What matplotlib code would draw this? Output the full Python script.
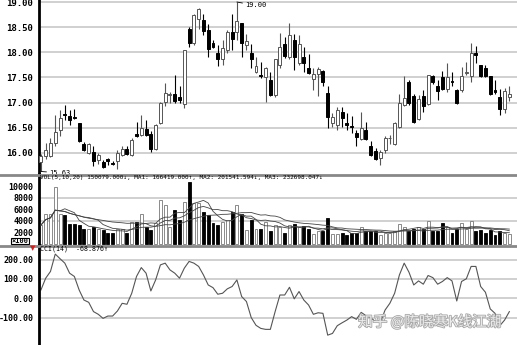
import matplotlib
matplotlib.use("Agg")
import matplotlib.pyplot as plt
import matplotlib.patheffects as pe
from matplotlib.lines import Line2D
import numpy as np
import pandas as pd

# Daily OHLC
opens = [15.81, 15.93, 15.93, 16.19, 16.46, 16.78, 16.74, 16.71, 16.59, 16.18,
         16.00, 16.01, 15.86, 15.81, 15.88, 15.80, 15.83, 15.96, 16.08, 15.96,
         16.38, 16.36, 16.47, 16.38, 16.08, 16.59, 17.02, 17.16, 17.17, 17.11,
         16.97, 18.47, 18.19, 18.67, 18.64, 18.44, 18.19, 17.99, 17.86, 18.04,
         18.41, 18.41, 18.58, 18.14, 17.99, 17.61, 17.55, 17.50, 17.45, 17.15,
         17.75, 18.16, 17.90, 18.25, 17.79, 17.91, 17.69, 17.46, 17.57, 17.63,
         17.20, 16.60, 16.56, 16.82, 16.60, 16.53, 16.40, 16.27, 16.46, 16.14,
         16.03, 15.90, 16.06, 16.29, 16.18, 16.51, 16.95, 17.40, 17.13, 16.67,
         17.13, 16.97, 17.52, 17.32, 17.50, 17.28, 17.42, 17.26, 17.25, 17.59,
         17.52, 17.99, 17.75, 17.68, 17.52, 17.25, 17.11, 16.87, 17.11]
highs = [15.98, 16.19, 16.29, 16.76, 16.85, 16.95, 16.85, 16.87, 16.60, 16.21,
         16.19, 16.13, 15.99, 15.86, 15.90, 15.83, 16.06, 16.13, 16.13, 16.29,
         16.62, 16.76, 16.66, 16.43, 16.58, 17.02, 17.38, 17.22, 17.55, 17.33,
         18.05, 18.50, 18.77, 18.89, 18.77, 18.57, 18.25, 18.14, 18.25, 18.44,
         18.77, 19.00, 18.58, 18.37, 18.17, 17.91, 17.81, 17.71, 17.61, 17.86,
         18.39, 18.31, 18.58, 18.37, 18.34, 18.11, 17.96, 17.69, 17.71, 17.64,
         17.33, 16.79, 16.92, 16.91, 16.79, 16.74, 16.46, 16.82, 16.61, 16.23,
         16.10, 16.05, 16.33, 16.36, 16.62, 17.18, 17.53, 17.45, 17.17, 17.15,
         17.25, 17.55, 17.55, 17.45, 17.63, 17.79, 17.61, 17.28, 17.71, 17.81,
         18.19, 18.12, 17.75, 17.75, 17.53, 17.45, 17.28, 17.30, 17.33]
lows = [15.63, 15.88, 15.92, 16.13, 16.33, 16.66, 16.56, 16.68, 16.21, 16.03,
        15.98, 15.73, 15.77, 15.70, 15.75, 15.75, 15.67, 15.93, 15.96, 15.94,
        16.31, 16.33, 16.33, 16.01, 16.06, 16.58, 16.93, 17.00, 17.00, 16.99,
        16.89, 18.11, 18.14, 18.47, 18.34, 17.91, 18.08, 17.73, 17.75, 17.98,
        18.04, 18.24, 17.91, 18.04, 17.68, 17.58, 17.48, 17.02, 17.13, 17.12,
        17.69, 17.88, 17.86, 17.65, 17.75, 17.61, 17.56, 17.26, 17.14, 17.33,
        16.49, 16.51, 16.46, 16.51, 16.46, 16.39, 16.13, 16.26, 16.26, 15.93,
        15.86, 15.75, 16.00, 16.18, 16.16, 16.49, 16.93, 16.95, 16.59, 16.66,
        16.82, 16.95, 17.37, 17.05, 17.25, 17.22, 17.33, 16.97, 17.22, 17.55,
        17.40, 17.78, 17.50, 17.50, 17.15, 17.17, 16.76, 16.79, 17.03]
closes = [15.93, 16.05, 16.19, 16.41, 16.69, 16.75, 16.66, 16.70, 16.23, 16.05,
          16.18, 15.83, 15.96, 15.71, 15.83, 15.78, 16.00, 16.08, 15.98, 16.26,
          16.33, 16.49, 16.36, 16.08, 16.56, 17.00, 17.20, 17.17, 17.04, 17.05,
          18.04, 18.19, 18.74, 18.87, 18.43, 18.06, 18.11, 17.86, 18.08, 18.41,
          18.27, 18.62, 18.19, 18.23, 17.86, 17.73, 17.53, 17.68, 17.15, 17.86,
          18.11, 17.92, 18.34, 17.90, 18.16, 17.79, 17.59, 17.57, 17.66, 17.40,
          16.71, 16.72, 16.85, 16.69, 16.56, 16.52, 16.31, 16.50, 16.27, 15.96,
          15.88, 16.01, 16.29, 16.30, 16.60, 16.99, 17.09, 16.99, 16.62, 17.07,
          16.93, 17.55, 17.40, 17.24, 17.28, 17.51, 17.41, 17.00, 17.53, 17.60,
          17.99, 17.94, 17.53, 17.53, 17.17, 17.22, 16.87, 17.24, 17.17]

# Volume (x100)
volumes = [3200, 5100, 5100, 9800, 5200, 5000, 3400, 3400, 3200, 2500,
           2500, 2900, 2600, 2300, 1800, 1800, 2600, 2500, 1800, 3800,
           3800, 5100, 2900, 2300, 3500, 7500, 6700, 2900, 5800, 4100,
           7300, 10700, 7000, 7000, 5500, 5000, 3500, 3200, 3800, 4100,
           5500, 6700, 5200, 2300, 4100, 2600, 2600, 3800, 2200, 3200,
           2900, 1800, 3200, 3400, 2900, 3000, 2500, 1700, 2100, 2100,
           4500, 1700, 1700, 1800, 1500, 1800, 1800, 2900, 2100, 2100,
           2100, 1500, 1900, 1800, 2100, 3400, 2900, 2200, 2600, 2900,
           2500, 4000, 2200, 2200, 3500, 2900, 1800, 2500, 3500, 2500,
           4000, 2200, 2300, 1800, 2300, 1500, 2100, 1800, 1700]

# CCI(14)
cci = [43, 104, 139, 229, 205, 182, 130, 113, 43, -9,
       -21, -69, -83, -104, -92, -92, -66, -26, -31, 26,
       113, 159, 130, 38, 95, 173, 182, 147, 130, 104,
       156, 191, 182, 165, 121, 69, 55, 21, 26, 49,
       61, 95, 9, -17, -100, -140, -156, -161, -161, -69,
       17, 17, 57, -3, 35, -9, -35, -83, -75, -78,
       -191, -182, -142, -127, -113, -95, -109, -73, -90, -101,
       -121, -125, -61, -26, 26, 121, 182, 135, 69, 90,
       73, 118, 107, 73, 87, 107, 90, -14, 87, 101,
       165, 165, 61, 31, -55, -78, -142, -113, -69]

price_ticks = [16.0, 16.5, 17.0, 17.5, 18.0, 18.5, 19.0]
vol_ticks = [2000, 4000, 6000, 8000, 10000]
cci_ticks = [-100, 0, 100, 200]

W, H = 517, 345
df = pd.DataFrame({'open': opens, 'high': highs, 'low': lows, 'close': closes,
                   'vol': volumes, 'cci': cci})
x = np.arange(len(df))
up = df['close'] >= df['open']


def fy(py):
    return 1 - py / H


fig = plt.figure(figsize=(W / 100, H / 100), dpi=100)
left = 39 / W
width = 478 / W
ax = fig.add_axes([left, fy(174), width, 174 / H])
axv = fig.add_axes([left, fy(245), width, 71 / H])
axc = fig.add_axes([left, 0, width, 100 / H])

tick_font = dict(family='DejaVu Sans Mono', weight='bold')
for a in (ax, axv, axc):
    a.set_xlim(-0.4, 99.6)
    a.set_xticks([])
    for s in ('top', 'right', 'bottom'):
        a.spines[s].set_visible(False)
    a.spines['left'].set_linewidth(2)
    a.spines['left'].set_color('black')
    a.tick_params(axis='y', length=0, pad=4)

# Price candles
ax.set_ylim(15.58, 19.04)
ax.set_yticks(price_ticks)
ax.set_yticklabels(['%.2f' % t for t in price_ticks], fontsize=6.5, **tick_font)
ax.grid(axis='y', color='#c8c8c8', lw=1.2)
ax.set_axisbelow(True)
wick_colors = np.where(up, '#555555', 'black')
ax.vlines(x, df['low'], df['high'], colors=wick_colors, lw=0.8, zorder=2)
body_h = (df['close'] - df['open']).abs().clip(lower=0.012)
body_b = df[['open', 'close']].min(axis=1)
ax.bar(x, body_h, bottom=body_b, width=0.62,
       color=np.where(up, 'white', 'black'),
       edgecolor=np.where(up, '#555555', 'black'), linewidth=0.7, zorder=3)

ih = int(df['high'].idxmax())
il = int(df['low'].idxmin())
ax.annotate('%.2f' % df['high'][ih], xy=(ih, df['high'][ih]), xytext=(6, -2.5),
            textcoords='offset points', fontsize=5, va='center', family='DejaVu Sans Mono',
            arrowprops=dict(arrowstyle='-', color='black', lw=0.6, shrinkA=0, shrinkB=0))
ax.annotate('%.2f' % df['low'][il], xy=(il, df['low'][il]), xytext=(6, -1),
            textcoords='offset points', fontsize=5, va='center', family='DejaVu Sans Mono',
            arrowprops=dict(arrowstyle='-', color='black', lw=0.6, shrinkA=0, shrinkB=0))

# Volume
axv.set_ylim(-260, 12087)
axv.set_yticks(vol_ticks)
axv.set_yticklabels([str(t) for t in vol_ticks], fontsize=6, **tick_font)
for g in (4000, 8000):
    axv.axhline(g, color='#c8c8c8', lw=1.2, zorder=0)
axv.bar(x, df['vol'], width=0.62, color=np.where(up, 'white', 'black'),
        edgecolor=np.where(up, '#777777', 'black'), linewidth=0.6, zorder=2)
for n in (5, 10, 20):
    axv.plot(x, df['vol'].rolling(n, min_periods=1).mean(), color='#444444', lw=0.6, zorder=3)

# CCI
axc.set_ylim(-242, 276)
axc.set_yticks(cci_ticks)
axc.set_yticklabels(['%.2f' % t for t in cci_ticks], fontsize=6, **tick_font)
axc.grid(axis='y', color='#c8c8c8', lw=1.2)
axc.set_axisbelow(True)
axc.plot(x, df['cci'], color='#555555', lw=0.8)

# panel separators
for py in (174.5, 245.5):
    fig.add_artist(Line2D([0, 1], [fy(py), fy(py)], color='#888888', lw=2))

fig.text(40 / W, fy(178), 'VOL(5,10,20) 150079.000\u2193, MA1: 166419.000\u2191, '
         'MA2: 201541.594\u2193, MA3: 232698.047\u2193', fontsize=4.3, va='center',
         family='DejaVu Sans Mono')
fig.text(40 / W, fy(249), 'CCI(14)  -68.876\u2191', fontsize=4.8, va='center',
         family='DejaVu Sans Mono')
fig.text(33 / W, fy(248), '\u25bc', fontsize=5, color='#d02020', ha='center', va='center')
fig.text(20 / W, fy(241), '\u00d7100', fontsize=5, ha='center', va='center', **tick_font,
         bbox=dict(boxstyle='square,pad=0.05', fc='white', ec='black', lw=0.8))

wm = fig.text(430 / W, fy(322), '知乎 @陈晓寒K线江湖', fontsize=10.5, ha='center', va='center',
              family=['Noto Sans CJK SC', 'DejaVu Sans'], color='#ececec', zorder=10)
wm.set_path_effects([pe.withStroke(linewidth=1.2, foreground='#a8a8a8')])

fig.savefig('out.png', dpi=100)
